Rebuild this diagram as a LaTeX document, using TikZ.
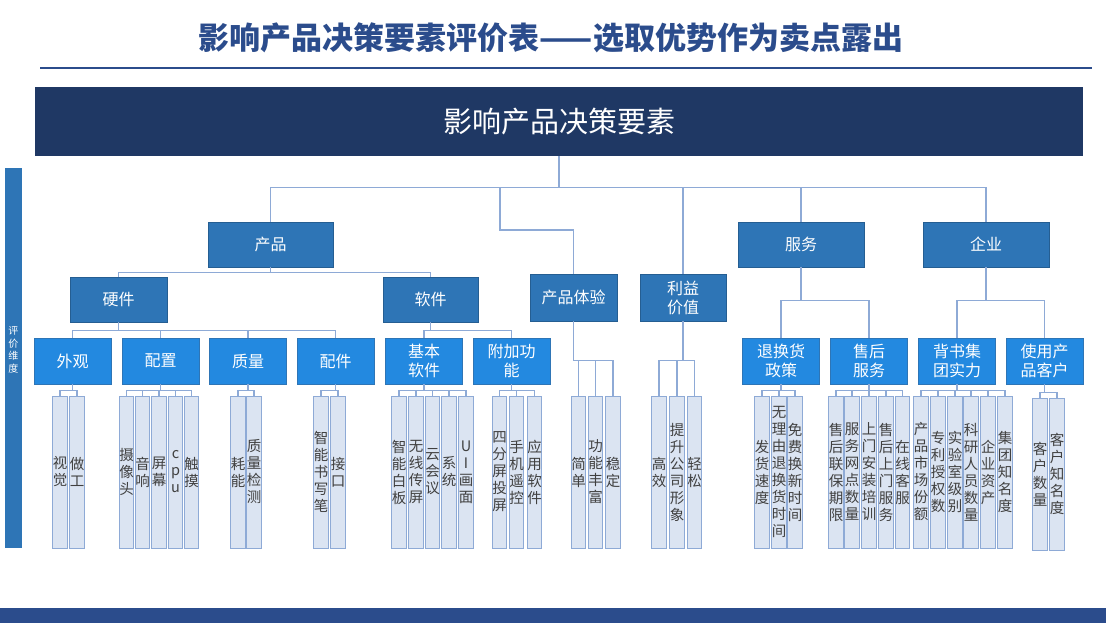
\documentclass[tikz,border=0pt]{standalone}
\usepackage{fontspec}
\setmainfont{Noto Sans CJK SC}
\definecolor{navy}{HTML}{1F3864}
\definecolor{titleblue}{HTML}{2B4C8C}
\definecolor{midblue}{HTML}{2E75B6}
\definecolor{brightblue}{HTML}{2389E0}
\definecolor{leaffill}{HTML}{DBE4F2}
\definecolor{leafline}{HTML}{8EAAD6}
\begin{document}
\begin{tikzpicture}[x=1pt,y=-1pt,
    link/.style={draw=leafline,line width=1.1pt},
    main box/.style={fill=midblue,draw=midblue!80!black,text=white,font=\fontsize{16}{19}\selectfont,align=center,inner sep=0pt},
    sub box/.style={fill=brightblue,draw=midblue,text=white,font=\fontsize{16}{19}\selectfont,align=center,inner sep=0pt,minimum width=77pt,minimum height=46pt},
    leaf/.style={fill=leaffill,draw=leafline,line width=0.9pt,text=black!75,font=\fontsize{14.5}{17}\selectfont,align=center,inner sep=0pt,minimum width=14pt,minimum height=152pt}]
\useasboundingbox (0,0) rectangle (1106,623);
\fill[white] (0,0) rectangle (1106,623);
\node[text=titleblue,font=\fontsize{31}{36}\selectfont\bfseries] (title) at (551,38) {影响产品决策要素评价表——选取优势作为卖点露出};
\draw[titleblue,line width=1.6pt] (40,68) -- (1092,68);
\fill[titleblue] (0,608) rectangle (1106,623);
\node[fill=midblue,minimum width=17pt,minimum height=380pt,anchor=north,inner sep=0pt] (side) at (13.5,168) {};
\node[text=white,font=\fontsize{10}{12.5}\selectfont,align=center] (sidetext) at (13.5,350) {评\\价\\维\\度};
\node[fill=navy,text=white,font=\fontsize{29}{34}\selectfont,minimum width=1048pt,minimum height=69pt,inner sep=0pt] (top) at (559,121.5) {影响产品决策要素};

% level 1
\node[main box,minimum width=125pt,minimum height=45pt] (cp) at (270.5,244.5) {产品};
\node[main box,minimum width=87pt,minimum height=47pt] (ty) at (573.5,297.5) {产品体验};
\node[main box,minimum width=86pt,minimum height=47pt] (ly) at (683,297.5) {利益\\价值};
\node[main box,minimum width=126pt,minimum height=45pt] (fw) at (801,244.5) {服务};
\node[main box,minimum width=126pt,minimum height=45pt] (qy) at (986,244.5) {企业};
\draw[link] (top.south) -- ++(0,31) coordinate (bus);
\foreach \n in {cp,fw,qy,ly} \draw[link] (bus) -| (\n.north);
\coordinate (tybend) at (500,230);
\draw[link] (bus) -| (tybend) -| (ty.north);

% level 2
\node[main box,minimum width=97pt,minimum height=45pt] (yj) at (118.5,299.5) {硬件};
\node[main box,minimum width=95pt,minimum height=45pt] (rj) at (430.5,299.5) {软件};
\foreach \n in {yj,rj} \draw[link] (cp.south) -- ++(0,5) -| (\n.north);

% level 3
\node[sub box] (wg) at (72.5,361) {外观};
\node[sub box] (pz) at (160.5,361) {配置};
\node[sub box] (zl) at (248,361) {质量};
\node[sub box] (pj) at (335.5,361) {配件};
\node[sub box] (jb) at (424,361) {基本\\软件};
\node[sub box] (fj) at (511.5,361) {附加功\\能};
\node[sub box] (th) at (781,361) {退换货\\政策};
\node[sub box] (sh) at (869,361) {售后\\服务};
\node[sub box] (bs) at (957,361) {背书集\\团实力};
\node[sub box] (sy) at (1044.5,361) {使用产\\品客户};
\foreach \n in {wg,pz,zl,pj} \draw[link] (yj.south) -- ++(0,8) -| (\n.north);
\foreach \n in {jb,fj} \draw[link] (rj.south) -- ++(0,8) -| (\n.north);
\foreach \n in {th,sh} \draw[link] (fw.south) -- ++(0,33) -| (\n.north);
\foreach \n in {bs,sy} \draw[link] (qy.south) -- ++(0,33) -| (\n.north);

% leaves
\foreach \x/\t in {60/{视\\觉},77/{做\\工}}
  {\node[leaf] (n) at (\x,472) {\t}; \draw[link] (wg.south) -- ++(0,6) -| (n.north);}
\foreach \x/\t in {126.5/{摄\\像\\头},142.5/{音\\响},159/{屏\\幕},175.5/{c\\p\\u},191.5/{触\\摸}}
  {\node[leaf] (n) at (\x,472) {\t}; \draw[link] (pz.south) -- ++(0,6) -| (n.north);}
\foreach \x/\t in {238/{耗\\能},254/{质\\量\\检\\测}}
  {\node[leaf] (n) at (\x,472) {\t}; \draw[link] (zl.south) -- ++(0,6) -| (n.north);}
\foreach \x/\t in {321/{智\\能\\书\\写\\笔},338/{接\\口}}
  {\node[leaf] (n) at (\x,472) {\t}; \draw[link] (pj.south) -- ++(0,6) -| (n.north);}
\foreach \x/\t in {399/{智\\能\\白\\板},416/{无\\线\\传\\屏},432.5/{云\\会\\议},449/{系\\统},466/{U\\I\\画\\面}}
  {\node[leaf] (n) at (\x,472) {\t}; \draw[link] (jb.south) -- ++(0,6) -| (n.north);}
\foreach \x/\t in {499.5/{四\\分\\屏\\投\\屏},516.5/{手\\机\\遥\\控},534.5/{应\\用\\软\\件}}
  {\node[leaf] (n) at (\x,472) {\t}; \draw[link] (fj.south) -- ++(0,6) -| (n.north);}
\foreach \x/\t in {578.5/{简\\单},595.5/{功\\能\\丰\\富},613/{稳\\定}}
  {\node[leaf] (n) at (\x,472) {\t}; \draw[link] (ty.south) -- ++(0,39) -| (n.north);}
\foreach \x/\t in {659/{高\\效},677/{提\\升\\公\\司\\形\\象},694.5/{轻\\松}}
  {\node[leaf] (n) at (\x,472) {\t}; \draw[link] (ly.south) -- ++(0,39) -| (n.north);}
\foreach \x/\t in {762/{发\\货\\速\\度},779/{无\\理\\由\\退\\换\\货\\时\\间},795/{免\\费\\换\\新\\时\\间}}
  {\node[leaf] (n) at (\x,472) {\t}; \draw[link] (th.south) -- ++(0,6) -| (n.north);}
\foreach \x/\t in {836/{售\\后\\联\\保\\期\\限},852/{服\\务\\网\\点\\数\\量},869/{上\\门\\安\\装\\培\\训},886/{售\\后\\上\\门\\服\\务},902.5/{在\\线\\客\\服}}
  {\node[leaf] (n) at (\x,472) {\t}; \draw[link] (sh.south) -- ++(0,6) -| (n.north);}
\foreach \x/\t in {921/{产\\品\\市\\场\\份\\额},938/{专\\利\\授\\权\\数},955/{实\\验\\室\\级\\别},971/{科\\研\\人\\员\\数\\量},988/{企\\业\\资\\产},1005/{集\\团\\知\\名\\度}}
  {\node[leaf] (n) at (\x,472) {\t}; \draw[link] (bs.south) -- ++(0,6) -| (n.north);}
\foreach \x/\t in {1040/{客\\户\\数\\量},1057/{客\\户\\知\\名\\度}}
  {\node[leaf] (n) at (\x,474) {\t}; \draw[link] (sy.south) -- ++(0,8) -| (n.north);}
\end{tikzpicture}
\end{document}
